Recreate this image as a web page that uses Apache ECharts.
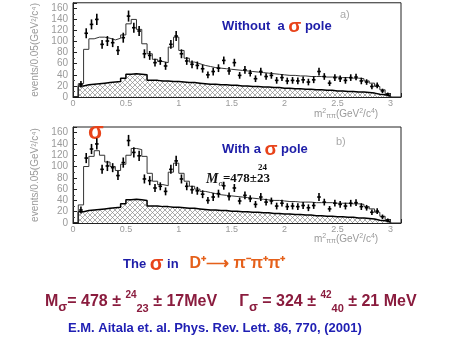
<!DOCTYPE html>
<html>
<head>
<meta charset="utf-8">
<script src="https://cdn.jsdelivr.net/npm/echarts@6/dist/echarts.min.js"></script>
<style>
  html, body { margin: 0; background: #fff; }
  #chart { width: 474px; height: 355px; }
</style>
</head>
<body>
<div id="chart"></div>
<script>
// bins of 0.05 GeV^2, bin i covers [i*0.05, (i+1)*0.05]
const binWidth = 0.05;

// measured events per bin (same data in both panels)
const counts = [null,
  23, 115, 131, 140, 95, 101, 98, 84, 107, 146,
  125, 119, 78, 75, 62, 65, 56, 95, 110, 78,
  65, 59, 57, 51, 40, 46, 52, 66, 47, 62,
  39, 49, 43, 33, 46, 37, 39, 30, 35, 29,
  30, 29, 31, 27, 31, 46, 37, 25, 35, 33,
  30, 35, 36, 29, 27, 19, 21, 11, 5];
const errors = [null,
  6, 9, 9, 10, 8, 9, 8, 8, 9, 10,
  9, 9, 8, 8, 7, 7, 7, 8, 9, 8,
  7, 7, 7, 7, 6, 7, 7, 7, 7, 7,
  6, 7, 6, 6, 7, 6, 6, 6, 6, 6,
  6, 6, 6, 6, 6, 7, 6, 5, 6, 6,
  6, 6, 6, 6, 5, 5, 5, 4, 3];

// fit without sigma pole (panel a)
const fitNoSigma = [
  0, 24, 86, 105, 108, 108, 106, 103, 106, 112,
  132, 140, 122, 96, 78, 68, 64, 62, 90, 108,
  84, 70, 63, 60, 57, 55, 53, 52, 51, 50,
  49, 48, 47, 46, 45, 44, 43, 42, 41, 40,
  39, 39, 38, 38, 37, 37, 37, 36, 36, 36,
  35, 35, 34, 34, 33, 29, 25, 19, 13, 6];

// fit with sigma pole (panel b)
const fitWithSigma = [
  0, 32, 100, 118, 128, 120, 108, 100, 93, 104,
  120, 132, 130, 118, 88, 74, 68, 66, 90, 106,
  88, 74, 65, 60, 56, 54, 52, 50, 49, 48,
  47, 46, 45, 44, 43, 42, 41, 40, 40, 39,
  38, 38, 37, 37, 37, 36, 36, 36, 36, 35,
  35, 35, 34, 34, 33, 29, 25, 19, 12, 6];

// background contribution (hatched)
const background = [
  0, 20, 22, 23, 24, 25, 26, 27, 28, 34,
  41, 42, 41, 40, 30, 30, 29, 29, 28, 28,
  27, 26, 26, 25, 24, 23, 23, 22, 22, 21,
  21, 20, 20, 19, 19, 18, 18, 17, 17, 16,
  16, 15, 15, 14, 14, 13, 13, 12, 12, 11,
  11, 10, 10, 9, 9, 8, 7, 5, 4, 2];

const panelLabels = ['a)', 'b)'];

// hatch pattern for the background
const hatch = document.createElement('canvas');
hatch.width = 5;
hatch.height = 5;
const hg = hatch.getContext('2d');
hg.fillStyle = '#fff';
hg.fillRect(0, 0, 5, 5);
hg.strokeStyle = '#8a8a8a';
hg.lineWidth = 0.7;
hg.beginPath();
hg.moveTo(0, 0); hg.lineTo(5, 5);
hg.moveTo(5, 0); hg.lineTo(0, 5);
hg.stroke();

function stepData(values) {
  const pts = values.map((v, i) => [i * binWidth, v]);
  pts.push([values.length * binWidth, 0]);
  return pts;
}

function pointData() {
  const out = [];
  counts.forEach((c, i) => {
    if (c != null) out.push([(i + 0.5) * binWidth, c, errors[i]]);
  });
  return out;
}

const axisGray = '#9a9a9a';

function xAxis(gridIndex) {
  return {
    gridIndex: gridIndex,
    type: 'value',
    min: 0,
    max: 3.1,
    interval: 0.5,
    axisLine: { lineStyle: { color: '#222', width: 1 } },
    axisTick: { inside: true, length: 4, lineStyle: { color: '#222' } },
    minorTick: { show: true, splitNumber: 5, length: 2, lineStyle: { color: '#444' } },
    axisLabel: { color: axisGray, fontFamily: 'Liberation Sans', fontSize: 9, margin: 2, showMaxLabel: false },
    splitLine: { show: false }
  };
}

function yAxis(gridIndex) {
  return {
    gridIndex: gridIndex,
    type: 'value',
    min: 0,
    max: 170,
    interval: 20,
    name: 'events/0.05(GeV²/c⁴)',
    nameLocation: 'middle',
    nameGap: 28,
    nameTextStyle: { color: axisGray, fontFamily: 'Liberation Sans', fontSize: 10 },
    axisLine: { show: true, lineStyle: { color: '#222', width: 1 } },
    axisTick: { inside: true, length: 4, lineStyle: { color: '#222' } },
    minorTick: { show: true, splitNumber: 2, length: 2, lineStyle: { color: '#444' } },
    axisLabel: { color: axisGray, fontFamily: 'Liberation Sans', fontSize: 10, margin: 5, showMaxLabel: false },
    splitLine: { show: false }
  };
}

function panelSeries(idx, fit) {
  return [
    {
      type: 'line',
      xAxisIndex: idx, yAxisIndex: idx,
      data: stepData(background),
      step: 'end',
      symbol: 'none',
      lineStyle: { color: '#000', width: 1.5 },
      areaStyle: { color: { image: hatch, repeat: 'repeat' }, opacity: 1 },
      silent: true,
      z: 2
    },
    {
      type: 'line',
      xAxisIndex: idx, yAxisIndex: idx,
      data: stepData(fit),
      step: 'end',
      symbol: 'none',
      lineStyle: { color: '#333', width: 1 },
      silent: true,
      z: 3
    },
    {
      type: 'custom',
      xAxisIndex: idx, yAxisIndex: idx,
      data: pointData(),
      z: 5,
      renderItem: function (params, api) {
        const x = api.value(0), y = api.value(1), e = api.value(2);
        const top = api.coord([x, y + e]);
        const bot = api.coord([x, Math.max(0, y - e)]);
        const l = api.coord([x - 0.017, y]);
        const r = api.coord([x + 0.017, y]);
        const st = { stroke: '#000', lineWidth: 1.6 };
        return {
          type: 'group',
          children: [
            { type: 'line', shape: { x1: top[0], y1: top[1], x2: bot[0], y2: bot[1] }, style: st },
            { type: 'line', shape: { x1: l[0], y1: l[1], x2: r[0], y2: r[1] }, style: st }
          ]
        };
      }
    }
  ];
}

const blue = '#1d1da8';
const red = '#e8431a';
const sans = 'Liberation Sans';
const serif = 'Liberation Serif';

const xName = {
  text: 'm{sp|2}{sb|ππ}(GeV{sp|2}/c{sp|4})',
  rich: {
    sp: { fontSize: 7, fill: axisGray, fontFamily: sans, verticalAlign: 'top', lineHeight: 12 },
    sb: { fontSize: 7, fill: axisGray, fontFamily: sans, verticalAlign: 'bottom', lineHeight: 12 }
  },
  fill: axisGray, fontFamily: sans, fontSize: 10
};

const chart = echarts.init(document.getElementById('chart'));
chart.setOption({
  backgroundColor: '#fff',
  animation: false,
  grid: [
    { left: 73, top: 1, width: 328, height: 96, show: true, borderColor: '#222', borderWidth: 1, backgroundColor: 'transparent' },
    { left: 73, top: 127, width: 328, height: 96, show: true, borderColor: '#222', borderWidth: 1, backgroundColor: 'transparent' }
  ],
  xAxis: [xAxis(0), xAxis(1)],
  yAxis: [yAxis(0), yAxis(1)],
  series: panelSeries(0, fitNoSigma).concat(panelSeries(1, fitWithSigma)),
  graphic: [
    { type: 'text', left: 314, top: 108, style: xName },
    { type: 'text', left: 314, top: 233, style: xName },
    { type: 'text', left: 340, top: 9, style: { text: panelLabels[0], fill: '#aaa', fontFamily: sans, fontSize: 11 } },
    { type: 'text', left: 336, top: 136, style: { text: panelLabels[1], fill: '#aaa', fontFamily: sans, fontSize: 11 } },
    {
      type: 'text', left: 222, top: 17,
      style: {
        text: '{b|Without  a }{s|σ}{b| pole}',
        rich: {
          b: { fontFamily: sans, fontWeight: 'bold', fontSize: 13, fill: blue, lineHeight: 20 },
          s: { fontFamily: sans, fontWeight: 'bold', fontSize: 19, fill: red, lineHeight: 20 }
        }
      }
    },
    {
      type: 'text', left: 222, top: 140,
      style: {
        text: '{b|With a }{s|σ}{b| pole}',
        rich: {
          b: { fontFamily: sans, fontWeight: 'bold', fontSize: 13, fill: blue, lineHeight: 20 },
          s: { fontFamily: sans, fontWeight: 'bold', fontSize: 19, fill: red, lineHeight: 20 }
        }
      }
    },
    { type: 'text', left: 88, top: 121, style: { text: 'σ', fill: red, fontFamily: sans, fontWeight: 'bold', fontSize: 23 } },
    {
      type: 'text', left: 206, top: 172,
      style: {
        text: '{i|M}{is|σ}{n|=478±23}',
        rich: {
          i: { fontFamily: serif, fontStyle: 'italic', fontWeight: 'bold', fontSize: 14, fill: '#111', lineHeight: 18 },
          is: { fontFamily: serif, fontStyle: 'italic', fontSize: 9, fill: '#111', verticalAlign: 'bottom', lineHeight: 18 },
          n: { fontFamily: serif, fontWeight: 'bold', fontSize: 13, fill: '#111', lineHeight: 18 }
        }
      }
    },
    { type: 'text', left: 258, top: 163, style: { text: '24', fill: '#111', fontFamily: serif, fontWeight: 'bold', fontSize: 9 } },
    {
      type: 'text', left: 123, top: 254,
      style: {
        text: '{b|The }{s|σ}{b| in   }{o|D⁺⟶ π⁻π⁺π⁺}',
        rich: {
          b: { fontFamily: sans, fontWeight: 'bold', fontSize: 13, fill: blue, lineHeight: 20 },
          s: { fontFamily: sans, fontWeight: 'bold', fontSize: 20, fill: red, lineHeight: 20 },
          o: { fontFamily: sans, fontWeight: 'bold', fontSize: 16, fill: '#e5601a', lineHeight: 20 }
        }
      }
    },
    {
      type: 'text', left: 45, top: 290,
      style: {
        text: '{m|M}{ms|σ}{m|= 478 ± }{sp|24}{sb|23}{m| ± 17MeV     Γ}{ms|σ}{m| = 324 ± }{sp|42}{sb|40}{m| ± 21 MeV}',
        rich: {
          m: { fontFamily: sans, fontWeight: 'bold', fontSize: 16, fill: '#8a1c3e', lineHeight: 24 },
          ms: { fontFamily: sans, fontWeight: 'bold', fontSize: 13, fill: '#8a1c3e', verticalAlign: 'bottom', lineHeight: 24 },
          sp: { fontFamily: sans, fontWeight: 'bold', fontSize: 10, fill: '#8a1c3e', verticalAlign: 'top', lineHeight: 24 },
          sb: { fontFamily: sans, fontWeight: 'bold', fontSize: 11, fill: '#8a1c3e', verticalAlign: 'bottom', lineHeight: 24 }
        }
      }
    },
    {
      type: 'text', left: 68, top: 322,
      style: { text: 'E.M. Aitala et. al. Phys. Rev. Lett. 86, 770, (2001)', fill: '#2020b4', fontFamily: sans, fontWeight: 'bold', fontSize: 13 }
    }
  ]
});
</script>
</body>
</html>
